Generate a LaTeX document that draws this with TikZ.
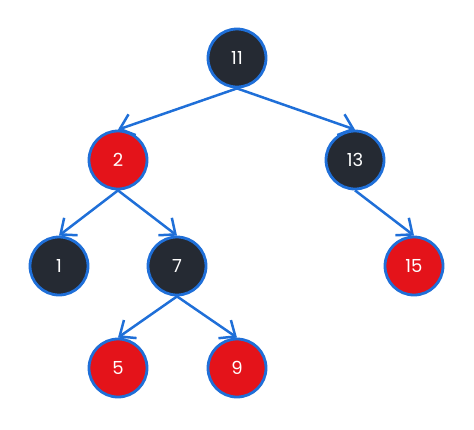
\documentclass[tikz,border=0pt]{standalone}
\usepackage{fontspec}
\setmainfont{Poppins}
\usetikzlibrary{arrows.meta}

\begin{document}
\begin{tikzpicture}[x=1pt, y=-1pt,
  every node/.style={circle, draw=edgeblue, line width=2.8pt, minimum size=58pt, inner sep=0pt, text=white, font=\fontsize{18}{21}\selectfont},
  blacknode/.style={fill=nodedark},
  rednode/.style={fill=nodered},
  link/.style={draw=edgeblue, line width=2.5pt, -{Straight Barb[length=13pt, width=22pt, line width=2.5pt]}}]
\definecolor{edgeblue}{HTML}{1F6FD8}
\definecolor{nodedark}{HTML}{252A33}
\definecolor{nodered}{HTML}{E4131A}
\useasboundingbox (0,0) rectangle (474,429);
% Nodes
\node (n11) [blacknode] at (237,58) {11};
\node (n2) [rednode] at (118,160) {2};
\node (n13) [blacknode] at (355,160) {13};
\node (n1) [blacknode] at (59,266) {1};
\node (n7) [blacknode] at (177,266) {7};
\node (n15) [rednode] at (414,266) {15};
\node (n5) [rednode] at (118,368) {5};
\node (n9) [rednode] at (237,368) {9};

% Edges
\draw[link] (n11.south) -- (n2.north);
\draw[link] (n11.south) -- (n13.north);
\draw[link] (n2.south) -- (n1.north);
\draw[link] (n2.south) -- (n7.north);
\draw[link] (n13.south) -- (n15.north);
\draw[link] (n7.south) -- (n5.north);
\draw[link] (n7.south) -- (n9.north);
\end{tikzpicture}
\end{document}
